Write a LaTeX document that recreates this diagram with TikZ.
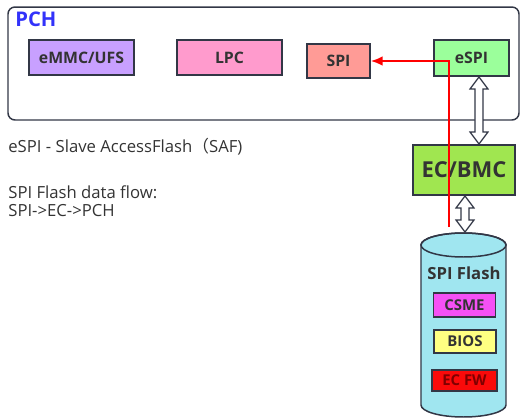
\documentclass[tikz,border=0pt]{standalone}
\usepackage{fontspec}
\setmainfont{Open Sans}
\newfontfamily\cjk{Noto Sans CJK SC}
\usepackage{tikz}
\usetikzlibrary{arrows.meta}
\definecolor{edgegray}{RGB}{50,55,70}
\definecolor{emmcviolet}{RGB}{200,160,255}
\definecolor{lpcpink}{RGB}{255,155,205}
\definecolor{spisalmon}{RGB}{255,155,150}
\definecolor{espigreen}{RGB}{155,255,155}
\definecolor{ecgreen}{RGB}{160,230,80}
\definecolor{flashcyan}{RGB}{160,230,240}
\definecolor{csmemagenta}{RGB}{245,80,245}
\definecolor{biosyellow}{RGB}{255,255,130}
\definecolor{fwred}{RGB}{250,10,10}
\definecolor{pchblue}{RGB}{50,50,250}
\def\px{0.02cm}
\tikzset{
	block/.style={draw=edgegray, line width=0.85pt, inner sep=0pt, font=\fontsize{9}{10}\selectfont\bfseries, text=black!80},
	part/.style={block, font=\fontsize{8.5}{10}\selectfont\bfseries},
	hollow/.style={draw=edgegray, fill=white, line width=0.7pt},
	saf/.style={draw=red, line width=1.4pt, -{Latex[length=2.4mm,width=2mm]}},
	note/.style={anchor=west, inner sep=0pt, font=\fontsize{9.5}{11}\selectfont, text=black!80}
}
\def\hollowarrow(#1,#2,#3){\draw[hollow] (#1,#2) -- ({#1+9},{#2+12}) -- ({#1+4},{#2+12}) -- ({#1+4},{#3-12}) -- ({#1+9},{#3-12}) -- (#1,#3) -- ({#1-9},{#3-12}) -- ({#1-4},{#3-12}) -- ({#1-4},{#2+12}) -- ({#1-9},{#2+12}) -- cycle;}

\begin{document}
\begin{tikzpicture}[x=0.02cm, y=-0.02cm]
	\useasboundingbox (0,0) rectangle (529,420);
	
	\draw[edgegray, line width=0.85pt, rounded corners=4pt] (8,7) rectangle (519,120);
	\node[anchor=west, inner sep=0pt, text=pchblue, font=\fontsize{11.5}{13}\selectfont\bfseries] (pch) at (15,19) {PCH};
	
	\node[block, fill=emmcviolet, minimum width=105*\px, minimum height=35*\px] (emmc) at (81.5,57.5) {eMMC/UFS};
	\node[block, fill=lpcpink, minimum width=105*\px, minimum height=35*\px] (lpc) at (229.5,57.5) {LPC};
	\node[block, fill=spisalmon, minimum width=63*\px, minimum height=34*\px] (spi) at (338.5,61) {SPI};
	\node[block, fill=espigreen, minimum width=75*\px, minimum height=36*\px] (espi) at (471.5,58) {eSPI};
	
	\node[note] (saftitle) at (8,147) {eSPI - Slave AccessFlash{\cjk （}SAF)};
	\node[note] (flowtitle) at (8,192) {SPI Flash data flow:};
	\node[note] (flowpath) at (8,211) {SPI->EC->PCH};
	
	\node[block, fill=ecgreen, minimum width=102*\px, minimum height=50*\px, font=\fontsize{12.5}{14}\selectfont\bfseries] (ec) at (464,170) {EC/BMC};
	
	\draw[edgegray, line width=0.85pt, fill=flashcyan] (421,245) -- (421,405) arc (180:0:42.5 and 12) -- (506,245) arc (0:-180:42.5 and 12) -- cycle;
	\draw[edgegray, line width=0.85pt] (463.5,245) ellipse (42.5 and 12);
	\node[inner sep=0pt, text=black!80, font=\fontsize{9.5}{11}\selectfont\bfseries] (flash) at (464,273) {SPI Flash};
	
	\node[part, fill=csmemagenta, minimum width=62*\px, minimum height=24*\px] (csme) at (464.5,305) {CSME};
	\node[part, fill=biosyellow, minimum width=62*\px, minimum height=23*\px] (bios) at (465,341.5) {BIOS};
	\node[part, fill=fwred, text=red!50!black, minimum width=65*\px, minimum height=21*\px] (ecfw) at (464.5,380.5) {EC FW};
	
	\hollowarrow(479,77,144)
	\hollowarrow(465,196,232)
	
	\coordinate (saftap) at (449,227);
	\draw[saf] (saftap) |- (spi.east);
\end{tikzpicture}
\end{document}
